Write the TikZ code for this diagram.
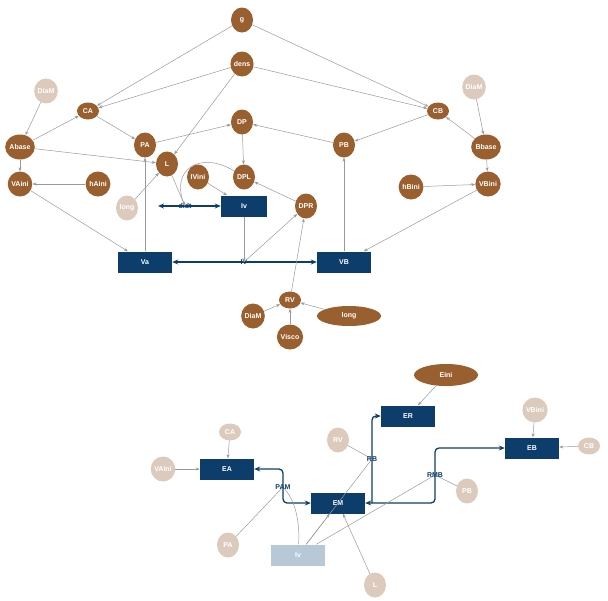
\documentclass[tikz,border=0pt]{standalone}
\usepackage{fontspec}
\setmainfont{Liberation Sans}
\usepackage{tikz}
\usetikzlibrary{arrows.meta, shapes.geometric, positioning, calc}
\definecolor{brownvar}{HTML}{9A5F2E}
\definecolor{palevar}{HTML}{DCCBBD}
\definecolor{navybox}{HTML}{0D3D6A}
\definecolor{palebox}{HTML}{B7C8D7}
\definecolor{edgegray}{HTML}{999999}

\begin{document}
\begin{tikzpicture}[x=1pt, y=-1pt,
        font=\fontsize{7}{8}\selectfont\bfseries,
        var/.style={ellipse, fill=brownvar, text=white, inner sep=0pt, minimum width=22pt, minimum height=25pt},
        small/.style={var, minimum height=17pt},
        ghost/.style={var, fill=palevar},
        state/.style={rectangle, fill=navybox, text=white, minimum width=54pt, minimum height=21pt},
        ghoststate/.style={state, fill=palebox},
        lbl/.style={text=navybox, inner sep=0.5pt},
        arrow/.style={draw=edgegray, line width=0.5pt, -{Stealth[length=4pt, width=3pt]}},
        flow/.style={draw=navybox, line width=1.3pt, -{Stealth[length=6pt, width=5pt]}}
      ]
      \useasboundingbox (0,0) rectangle (608,600);

      % --- Upper graph: variables ---
      \node (g) [var] at (242,20) {g};
      \node (dens) [var] at (242,64) {dens};
      \node (diamA) [ghost] at (46,91) {DiaM};
      \node (diamB) [ghost] at (474,87) {DiaM};
      \node (CA) [small] at (88,111) {CA};
      \node (CB) [small] at (438,111) {CB};
      \node (DP) [var] at (242,122) {DP};
      \node (Abase) [var, minimum width=26pt] at (20,147) {Abase};
      \node (PA) [var] at (145,145) {PA};
      \node (PB) [var] at (344,145) {PB};
      \node (Bbase) [var, minimum width=26pt] at (486,147) {Bbase};
      \node (L) [var] at (167,164) {L};
      \node (VAini) [var] at (20,184) {VAini};
      \node (hAini) [var] at (98,184) {hAini};
      \node (IVini) [var] at (198,177) {IVini};
      \node (DPL) [var] at (244,177) {DPL};
      \node (hBini) [var] at (411,187) {hBini};
      \node (VBini) [var] at (488,184) {VBini};
      \node (longA) [ghost] at (127,208) {long};
      \node (DPR) [var] at (306,206) {DPR};
      \node (RV) [small] at (290,300) {RV};
      \node (diamR) [var] at (253,316) {DiaM};
      \node (longR) [var, minimum width=64pt, minimum height=20pt] at (349,316) {long};
      \node (visco) [var] at (290,337) {Visco};

      % states
      \node (Iv) [state, minimum width=46pt] at (244,206) {Iv};
      \node (Va) [state] at (145,262) {Va};
      \node (VB) [state] at (344,262) {VB};
      \coordinate (didtL) at (158,206);
      \coordinate (didt) at (185,206);
      \coordinate (IV) at (244,262);

      % flows
      \draw [flow, {Stealth[length=6pt, width=5pt, open]}-{Stealth[length=6pt, width=5pt]}] (didtL) -- (Iv);
      \node [lbl] at (didt) {didt};
      \draw [flow, {Stealth[length=6pt, width=5pt, open]}-{Stealth[length=6pt, width=5pt]}] (Va) -- (VB);
      \node [lbl] at (IV) {IV};

      % influences
      \draw [arrow] (g) -- (CA);
      \draw [arrow] (g) -- (CB);
      \draw [arrow] (dens) -- (CA);
      \draw [arrow] (dens) -- (CB);
      \draw [arrow] (dens) -- (L);
      \draw [arrow] (diamA) -- (Abase);
      \draw [arrow] (Abase) -- (CA);
      \draw [arrow] (Abase) -- (VAini);
      \draw [arrow] (Abase) -- (L);
      \draw [arrow] (CA) -- (PA);
      \draw [arrow] (PA) -- (DP);
      \draw [arrow] (DP) -- (DPL);
      \draw [arrow] (PB) -- (DP);
      \draw [arrow] (CB) -- (PB);
      \draw [arrow] (Bbase) -- (CB);
      \draw [arrow] (diamB) -- (Bbase);
      \draw [arrow] (Bbase) -- (VBini);
      \draw [arrow] (hAini) -- (VAini);
      \draw [arrow] (hBini) -- (VBini);
      \draw [arrow] (VAini) -- (Va);
      \draw [arrow] (VBini) -- (VB);
      \draw [arrow] (Va) -- (PA);
      \draw [arrow] (VB) -- (PB);
      \draw [arrow] (longA) -- (L);
      \draw [arrow] (L) -- (didt);
      \draw [arrow] (DPL) .. controls (200,150) and (170,170) .. (didt);
      \draw [arrow] (IVini) -- (Iv);
      \draw [arrow] (Iv) -- (IV);
      \draw [arrow] (IV) -- (DPR);
      \draw [arrow] (DPR) -- (DPL);
      \draw [arrow] (RV) -- (DPR);
      \draw [arrow] (diamR) -- (RV);
      \draw [arrow] (visco) -- (RV);
      \draw [arrow] (longR) -- (RV);

      % --- Lower graph: energies ---
      \node (Eini) [var, minimum width=64pt, minimum height=22pt] at (446,375) {Eini};
      \node (ER) [state] at (408,416) {ER};
      \node (EB) [state] at (532,448) {EB};
      \node (EA) [state] at (227,469) {EA};
      \node (EM) [state] at (338,503) {EM};
      \node (IvG) [ghoststate] at (298,555) {Iv};
      \node (VBiniG) [ghost] at (535,410) {VBini};
      \node (CBG) [ghost, minimum height=17pt] at (589,446) {CB};
      \node (CAG) [ghost, minimum height=17pt] at (230,432) {CA};
      \node (VAiniG) [ghost] at (163,469) {VAini};
      \node (RVG) [ghost] at (338,440) {RV};
      \node (PBG) [ghost] at (467,491) {PB};
      \node (PAG) [ghost] at (228,545) {PA};
      \node (LG) [ghost] at (375,585) {L};
      \coordinate (PAM) at (283,487);
      \coordinate (RB) at (372,459);
      \coordinate (RMB) at (435,475);

      \draw [flow, rounded corners=4pt] (PAM) |- (EA);
      \draw [flow, rounded corners=4pt] (PAM) |- (EM);
      \draw [flow, rounded corners=4pt] (RMB) |- (EB);
      \draw [flow, rounded corners=4pt] (RMB) |- (EM);
      \draw [flow, rounded corners=4pt] (RB |- EM) -- (RB) |- (ER);

      \draw [arrow] (Eini) -- (ER);
      \draw [arrow] (VBiniG) -- (EB);
      \draw [arrow] (CBG) -- (EB);
      \draw [arrow] (CAG) -- (EA);
      \draw [arrow] (VAiniG) -- (EA);
      \draw [arrow, -] (RVG) -- (RB);
      \draw [arrow, -] (PBG) -- (RMB);
      \draw [arrow, -] (PAG) -- (PAM);
      \draw [arrow, -] (IvG) .. controls (300,520) and (295,500) .. (PAM);
      \draw [arrow, -] (IvG) -- (RB);
      \draw [arrow, -] (IvG) -- (RMB);
      \draw [arrow] (IvG) -- (EM);
      \draw [arrow] (LG) -- (EM);
      \node [lbl] at (PAM) {PAM};
      \node [lbl] at (RB) {RB};
      \node [lbl] at (RMB) {RMB};
    \end{tikzpicture}
\end{document}
